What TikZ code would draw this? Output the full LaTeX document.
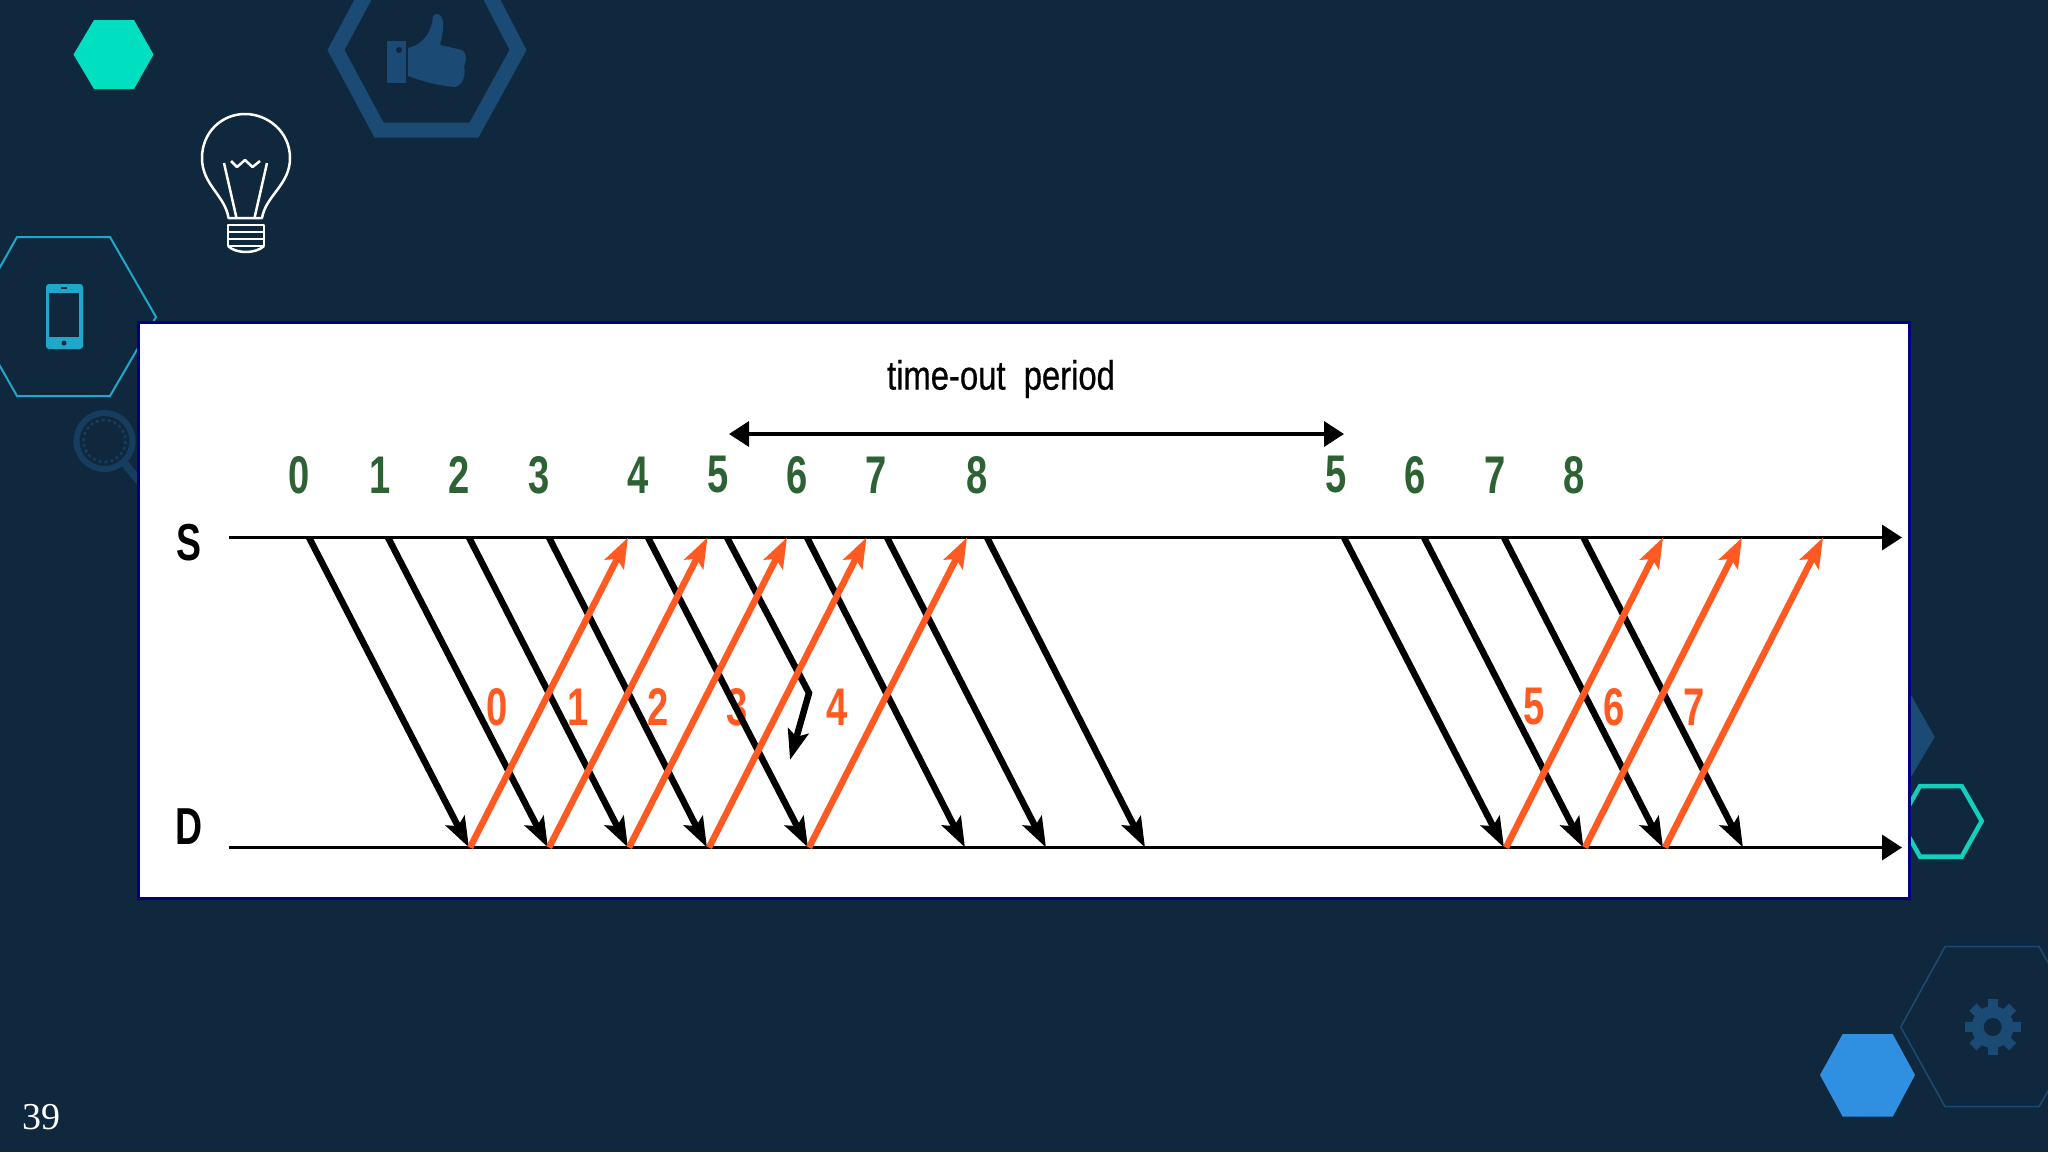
\documentclass[tikz,border=0pt]{standalone}
\usepackage{fontspec}
\setmainfont{Liberation Serif}
\newfontfamily\narrowfont[FakeStretch=0.8,FakeBold=0.5]{Liberation Sans}
\newfontfamily\narrowbold[FakeStretch=0.72]{Liberation Sans Bold}
\usepackage{xcolor}
\usepackage{tikz}
\usetikzlibrary{arrows.meta, positioning}
\definecolor{slidebg}{HTML}{10283D}
\definecolor{boxedge}{HTML}{000080}
\definecolor{decoblue}{HTML}{1B4B74}
\definecolor{phonecyan}{HTML}{1FA8C9}
\definecolor{tealfill}{HTML}{00E0C0}
\definecolor{tealline}{HTML}{12D0BC}
\definecolor{hexblue}{HTML}{2F8FE0}
\definecolor{seqgreen}{HTML}{2E6234}
\definecolor{ackorange}{HTML}{FF5A22}
\tikzset{
    textnode/.style  = {draw=none, fill=none, rectangle, minimum size=0cm, inner sep = 0em, node distance=0em},
    seqnode/.style   = {textnode, text=seqgreen, font=\narrowbold\fontsize{53}{53}\selectfont},
    acknode/.style   = {textnode, text=ackorange, font=\narrowbold\fontsize{53}{53}\selectfont},
    hostnode/.style  = {textnode, text=black, font=\narrowbold\fontsize{52}{52}\selectfont},
    timeline/.style  = {black, line width=3.5pt, -{Triangle[length=20pt,width=25pt]}},
    span/.style      = {black, line width=3.5pt, {Triangle[length=20pt,width=25pt]}-{Triangle[length=20pt,width=25pt]}},
    frame/.style     = {black, line width=6.5pt, -{Stealth[length=30pt,width=21pt,inset=6pt]}},
    ack/.style       = {ackorange, line width=6.5pt, -{Stealth[length=30pt,width=21pt,inset=6pt]}},
    bulbline/.style  = {white, line width=2.5pt, line join=round},
}

\begin{document}
\begin{tikzpicture}[x=1pt, y=-1pt]
\useasboundingbox (0,0) rectangle (2048,1152);
\clip (0,0) rectangle (2048,1152);
\fill[slidebg] (0,0) rectangle (2048,1152);

\fill[tealfill] (94,20) -- (134,20) -- (153.5,54.5) -- (134,89) -- (94,89) -- (73.5,54.5) -- cycle;
\draw[decoblue, line width=15pt, line join=miter] (366,-6) -- (336,50) -- (379,130) -- (474,130) -- (518,50) -- (489,-6);
\fill[decoblue] (386.5,41) rectangle (406,83);
\fill[slidebg] (399,50) circle (3);
\fill[decoblue] (408,48) .. controls (425,44) and (432,30) .. (433,16) .. controls (438,11) and (444,16) .. (443,26)
  .. controls (443,34) and (441,40) .. (440,45) -- (462,50) .. controls (468,55) and (466,62) .. (464,66)
  .. controls (466,75) and (463,85) .. (455,87) .. controls (440,86) and (425,82) .. (408,76) -- cycle;

\draw[bulbline] (228.5,218) .. controls (225,195) and (202,185) .. (202,158) .. controls (202,132) and (222,114) .. (245,114)
  .. controls (268,114) and (290,132) .. (290,158) .. controls (290,185) and (266,195) .. (262,218) -- cycle;
\draw[bulbline] (224,163) -- (236.5,218);
\draw[bulbline] (267,163) -- (254.5,218);
\draw[bulbline] (231,161) -- (237,167) -- (245,160) -- (252.5,167) -- (260,161);
\draw[bulbline] (228,225) rectangle (264,246);
\draw[bulbline] (228,232) -- (264,232);
\draw[bulbline] (228,239) -- (264,239);
\draw[bulbline] (228,246) .. controls (236,254) and (256,254) .. (264,246);

\draw[phonecyan, line width=2pt] (17,237) -- (110,237) -- (156,317) -- (110,396) -- (17,396) -- (-28,317) -- cycle;
\fill[phonecyan, rounded corners=3pt] (46,284) rectangle (83,349);
\fill[slidebg] (49,293) rectangle (79,337);
\fill[slidebg] (64,343) circle (2.5);
\fill[slidebg] (61,287) rectangle (67,289);

\draw[decoblue!60!slidebg, line width=6pt] (104.5,441) circle (28);
\draw[decoblue!60!slidebg, line width=2.5pt, dashed] (104.5,441) circle (21);
\draw[decoblue!60!slidebg, line width=8pt] (125,464) -- (140,482);

\fill[decoblue] (1911,695) -- (1934.7,737) -- (1911,777) -- cycle;
\draw[tealline, line width=4.5pt] (1920,786) -- (1961.7,786) -- (1981.7,821) -- (1961.7,856.7) -- (1920,856.7) -- (1900,821) -- cycle;
\fill[hexblue] (1842.7,1034) -- (1892.7,1034) -- (1915,1075) -- (1892.7,1116.7) -- (1842.7,1116.7) -- (1820,1075) -- cycle;
\draw[decoblue, line width=1.5pt] (1945,946.7) -- (2039,946.7) -- (2085,1027) -- (2039,1106.7) -- (1945,1106.7) -- (1900.7,1027) -- cycle;
\foreach \a in {0,45,...,315} {
  \draw[decoblue, line width=10pt] (1992.7,1027) -- ++(\a:28);
}
\fill[decoblue] (1992.7,1027) circle (21);
\fill[slidebg] (1992.7,1027) circle (9);

\draw[boxedge, line width=3pt, fill=white] (138,322.5) rectangle (1909.5,898.5);

\node[textnode, name=timeout, font=\narrowfont\fontsize{41}{41}\selectfont] at (1001,379) {time-out\ \ period};
\coordinate (spanL) at (729,434);
\coordinate (spanR) at (1344,434);
\draw[span] (spanL) -- (spanR);

\node[seqnode, name=n0] at (299,475) {0};
\node[seqnode, name=n1, right of = n0, xshift=81pt] {1};
\node[seqnode, name=n2, right of = n1, xshift=79pt] {2};
\node[seqnode, name=n3, right of = n2, xshift=80pt] {3};
\node[seqnode, name=n4, right of = n3, xshift=99pt] {4};
\node[seqnode, name=n5, right of = n4, xshift=80pt] {5};
\node[seqnode, name=n6, right of = n5, xshift=79pt] {6};
\node[seqnode, name=n7, right of = n6, xshift=79pt] {7};
\node[seqnode, name=n8, right of = n7, xshift=101pt] {8};
\node[seqnode, name=r5, right of = n8, xshift=359pt] {5};
\node[seqnode, name=r6, right of = r5, xshift=79pt] {6};
\node[seqnode, name=r7, right of = r6, xshift=80.5pt] {7};
\node[seqnode, name=r8, right of = r7, xshift=79pt] {8};

\node[acknode, name=a0] at (497.5,707) {0};
\node[acknode, name=a1, right of = a0, xshift=80.5pt] {1};
\node[acknode, name=a2, right of = a1, xshift=80pt] {2};
\node[acknode, name=a3, right of = a2, xshift=79pt] {3};
\node[acknode, name=a4, right of = a3, xshift=100pt] {4};
\node[acknode, name=a5, right of = a4, xshift=697pt] {5};
\node[acknode, name=a6, right of = a5, xshift=80pt] {6};
\node[acknode, name=a7, right of = a6, xshift=80pt] {7};

\node[hostnode, name=S] at (188.5,543) {S};
\node[hostnode, name=D] at (189,827) {D};

\coordinate (Sstart) at (229,537.5);
\coordinate (Send) at (1902,537.5);
\coordinate (Dstart) at (229,847.5);
\coordinate (Dend) at (1902,847.5);
\draw[timeline] (Sstart) -- (Send);
\draw[timeline] (Dstart) -- (Dend);

\coordinate (s0) at (309,537.5);
\coordinate (s1) at (388,537.5);
\coordinate (s2) at (469,537.5);
\coordinate (s3) at (549,537.5);
\coordinate (s4) at (648,537.5);
\coordinate (s5) at (727,537.5);
\coordinate (s6) at (807,537.5);
\coordinate (s7) at (887,537.5);
\coordinate (s8) at (987,537.5);
\coordinate (t5) at (1344,537.5);
\coordinate (t6) at (1424,537.5);
\coordinate (t7) at (1504,537.5);
\coordinate (t8) at (1583.5,537.5);
\coordinate (d0) at (469,847.5);
\coordinate (d1) at (548,847.5);
\coordinate (d2) at (628,847.5);
\coordinate (d3) at (707,847.5);
\coordinate (d4) at (808,847.5);
\coordinate (d6) at (965,847.5);
\coordinate (d7) at (1046,847.5);
\coordinate (d8) at (1145,847.5);
\coordinate (e5) at (1504,847.5);
\coordinate (e6) at (1583.5,847.5);
\coordinate (e7) at (1663,847.5);
\coordinate (e8) at (1743,847.5);
\coordinate (kink) at (809,693);
\coordinate (lost) at (790,760);

\draw (s0) edge[frame] (d0);
\draw (s1) edge[frame] (d1);
\draw (s2) edge[frame] (d2);
\draw (s3) edge[frame] (d3);
\draw (s4) edge[frame] (d4);
\draw[frame] (s5) -- (kink) -- (lost);
\draw (s6) edge[frame] (d6);
\draw (s7) edge[frame] (d7);
\draw (s8) edge[frame] (d8);
\draw (t5) edge[frame] (e5);
\draw (t6) edge[frame] (e6);
\draw (t7) edge[frame] (e7);
\draw (t8) edge[frame] (e8);

\coordinate (b0) at (470,847.5);
\coordinate (b1) at (549,847.5);
\coordinate (b2) at (629,847.5);
\coordinate (b3) at (709,847.5);
\coordinate (b4) at (809,847.5);
\coordinate (b5) at (1506,847.5);
\coordinate (b6) at (1585,847.5);
\coordinate (b7) at (1665,847.5);
\coordinate (u0) at (628,537.5);
\coordinate (u1) at (707.5,537.5);
\coordinate (u2) at (787,537.5);
\coordinate (u3) at (866.5,537.5);
\coordinate (u4) at (967,537.5);
\coordinate (u5) at (1663,537.5);
\coordinate (u6) at (1742,537.5);
\coordinate (u7) at (1823,537.5);

\draw (b0) edge[ack] (u0);
\draw (b1) edge[ack] (u1);
\draw (b2) edge[ack] (u2);
\draw (b3) edge[ack] (u3);
\draw (b4) edge[ack] (u4);
\draw (b5) edge[ack] (u5);
\draw (b6) edge[ack] (u6);
\draw (b7) edge[ack] (u7);

\node[textnode, name=pageno, text=white, font=\fontsize{38}{38}\selectfont] at (42,1117) {39};
\end{tikzpicture}
\end{document}
